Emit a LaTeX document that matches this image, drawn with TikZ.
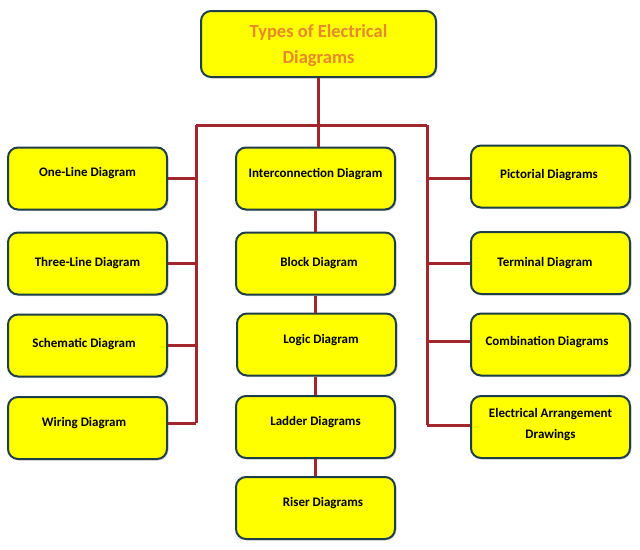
\documentclass[tikz,border=0pt]{standalone}
\usepackage{fontspec}
\setmainfont{Carlito}
\usetikzlibrary{shadows}
\definecolor{boxfill}{HTML}{FFFF00}
\definecolor{boxedge}{HTML}{1E3F4A}
\definecolor{wire}{HTML}{A3262C}
\definecolor{titleorange}{HTML}{E8892C}
\tikzset{
  box/.style={draw=boxedge, line width=2pt, fill=boxfill, rounded corners=10pt,
    minimum width=159pt, minimum height=62pt, align=center, inner sep=2pt,
    font=\fontsize{13}{21}\selectfont\bfseries,
    drop shadow={opacity=0.25, shadow xshift=1.5pt, shadow yshift=-1.5pt}},
  up/.style={text depth=#1},
  titlebox/.style={box, minimum width=235pt, minimum height=66pt, text depth=0pt,
    font=\fontsize{18.5}{26}\selectfont\bfseries, text=titleorange},
  wireline/.style={draw=wire, line width=3pt}
}
\begin{document}
\begin{tikzpicture}[x=1pt,y=-1pt]
\useasboundingbox (0,0) rectangle (640,549);
% title
\node[titlebox] (title) at (318.5,44) {Types of Electrical\\Diagrams};
% left column
\node[box, up=14pt] (one) at (87.5,178.5) {One-Line Diagram};
\node[box] (three) at (87.5,263.5) {Three-Line Diagram};
\node[box, up=6pt] (schem) at (87.5,345.5) {Schematic Diagram\hspace*{7pt}};
\node[box, up=13pt] (wiring) at (87.5,428) {Wiring Diagram\hspace*{7pt}};
% middle column
\node[box, up=12pt] (inter) at (315.5,178.5) {Interconnection Diagram};
\node[box] (block) at (315.5,263.5) {\hspace*{7pt}Block Diagram};
\node[box, up=12pt] (logic) at (316.5,344.5) {\hspace*{9pt}Logic Diagram};
\node[box, up=13pt] (ladder) at (315.5,427) {Ladder Diagrams};
\node[box, up=13pt] (riser) at (315.5,508) {\hspace*{15pt}Riser Diagrams};
% right column
\node[box, up=6pt] (pict) at (550.5,176.5) {Pictorial Diagrams\hspace*{3pt}};
\node[box] (term) at (550.5,263) {Terminal Diagram\hspace*{11pt}};
\node[box, up=8pt] (comb) at (550.5,344.5) {Combination Diagrams\hspace*{7pt}};
\node[box, up=7pt] (elec) at (550.5,427) {Electrical Arrangement\\Drawings};
% bus coordinates
\coordinate (hl) at (196,125);
\coordinate (hr) at (427,125);
\coordinate (vl) at (196,423);
\coordinate (vr) at (427,425);
\path[wireline] (hl) -- (hr);
\path[wireline] (hl) -- (vl);
\path[wireline] (hr) -- (vr);
\path[wireline] (title.south) -- (title.south |- inter.north);
\path[wireline] (inter.south) -- (block.north);
\path[wireline] (block.south) -- (logic.north -| block.south);
\path[wireline] (logic.south -| block.south) -- (ladder.north);
\path[wireline] (ladder.south) -- (riser.north);
\path[wireline] (one.east) -- (one.east -| hl);
\path[wireline] (three.east) -- (three.east -| hl);
\path[wireline] (schem.east) -- (schem.east -| hl);
\path[wireline] ([yshift=5pt]wiring.east) -- ([yshift=5pt]wiring.east -| vl);
\path[wireline] ([yshift=-2pt]pict.west) -- ([yshift=-2pt]pict.west -| hr);
\path[wireline] (term.west) -- (term.west -| hr);
\path[wireline] ([yshift=3pt]comb.west) -- ([yshift=3pt]comb.west -| hr);
\path[wireline] ([yshift=2pt]elec.west) -- (vr);
\end{tikzpicture}
\end{document}
